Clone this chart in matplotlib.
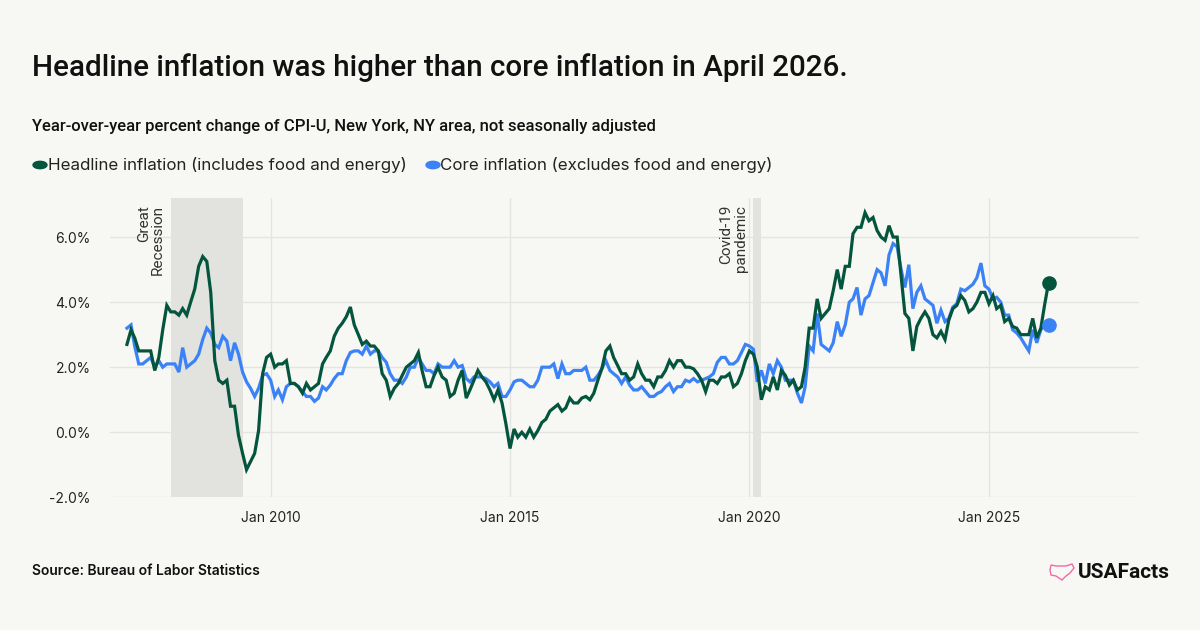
import matplotlib
matplotlib.use("Agg")
import matplotlib.pyplot as plt
from matplotlib.patches import Circle, Polygon
import pandas as pd

# year-over-year % change, CPI-U New York area, monthly from Jan 2007 to Apr 2026
headline = [
    2.7, 3.15, 2.9, 2.5, 2.5, 2.5, 2.5, 1.9, 2.3, 3.15,
    3.9, 3.7, 3.7, 3.6, 3.8, 3.6, 4.0, 4.4, 5.1, 5.4,
    5.25, 4.3, 2.2, 1.6, 1.5, 1.6, 0.8, 0.8, -0.1, -0.65,
    -1.15, -0.9, -0.65, 0.05, 1.8, 2.3, 2.4, 2.0, 2.1, 2.1,
    2.2, 1.5, 1.5, 1.4, 1.2, 1.5, 1.3, 1.4, 1.5, 2.1,
    2.3, 2.5, 2.95, 3.2, 3.35, 3.55, 3.85, 3.3, 3.0, 2.7,
    2.8, 2.65, 2.65, 2.5, 1.8, 1.6, 1.1, 1.35, 1.5, 1.75,
    2.0, 2.1, 2.2, 2.45, 1.9, 1.4, 1.4, 1.75, 2.0, 1.7,
    1.6, 1.1, 1.2, 1.6, 1.9, 1.05, 1.3, 1.6, 1.9, 1.7,
    1.55, 1.3, 1.0, 1.3, 0.9, 0.25, -0.5, 0.1, -0.15, 0.0,
    -0.15, 0.1, -0.15, 0.05, 0.3, 0.4, 0.65, 0.75, 0.85, 0.65,
    0.75, 1.05, 0.9, 0.9, 1.05, 1.1, 1.0, 1.2, 1.6, 1.95,
    2.5, 2.65, 2.3, 2.05, 1.8, 1.8, 1.6, 1.7, 2.1, 1.8,
    1.6, 1.6, 1.4, 1.7, 1.7, 1.9, 2.2, 2.0, 2.2, 2.2,
    2.0, 2.0, 1.95, 1.8, 1.6, 1.25, 1.6, 1.6, 1.5, 1.7,
    1.7, 1.8, 1.4, 1.5, 1.8, 2.2, 2.5, 2.4, 2.0, 1.0,
    1.4, 1.3, 1.7, 1.3, 1.9, 1.75, 1.45, 1.6, 1.3, 1.4,
    2.0, 3.2, 3.2, 4.1, 3.5, 3.65, 3.8, 4.35, 5.0, 4.4,
    5.1, 5.1, 6.1, 6.3, 6.3, 6.75, 6.5, 6.6, 6.2, 6.0,
    5.9, 6.35, 6.0, 6.0, 4.9, 3.65, 3.5, 2.5, 3.25, 3.5,
    3.7, 3.5, 3.0, 2.9, 3.1, 2.85, 3.45, 3.8, 3.9, 4.2,
    4.05, 3.7, 3.8, 4.0, 4.3, 4.3, 3.95, 4.2, 3.8, 3.9,
    3.4, 3.5, 3.25, 3.2, 3.0, 3.0, 3.0, 3.5, 2.9, 3.2,
    3.9, 4.6,
]
core = [
    3.2, 3.3, 2.65, 2.1, 2.1, 2.2, 2.3, 2.0, 2.2, 2.0,
    2.1, 2.1, 2.1, 1.85, 2.6, 2.0, 2.1, 2.2, 2.4, 2.85,
    3.2, 3.05, 2.7, 2.6, 2.95, 2.8, 2.2, 2.75, 2.4, 1.85,
    1.55, 1.35, 1.1, 1.35, 1.75, 1.8, 1.6, 1.1, 1.3, 1.0,
    1.4, 1.5, 1.5, 1.4, 1.25, 1.1, 1.1, 0.95, 1.05, 1.4,
    1.3, 1.45, 1.65, 1.8, 1.8, 2.2, 2.45, 2.5, 2.5, 2.4,
    2.65, 2.4, 2.5, 2.5, 2.3, 2.15, 1.8, 1.6, 1.6, 1.5,
    1.7, 2.0, 2.0, 2.3, 2.1, 1.9, 1.9, 1.8, 2.1, 2.0,
    2.0, 2.0, 2.2, 2.0, 2.05, 1.65, 1.55, 1.7, 1.7, 1.7,
    1.65, 1.55, 1.4, 1.5, 1.1, 1.1, 1.3, 1.55, 1.6, 1.6,
    1.5, 1.4, 1.4, 1.6, 2.0, 2.0, 2.0, 2.1, 1.65, 2.1,
    1.8, 1.8, 1.9, 1.9, 1.9, 2.0, 1.6, 1.6, 1.75, 1.95,
    2.2, 1.9, 1.8, 1.7, 1.5, 1.7, 1.45, 1.3, 1.3, 1.4,
    1.25, 1.1, 1.1, 1.2, 1.25, 1.4, 1.5, 1.25, 1.4, 1.4,
    1.6, 1.55, 1.65, 1.55, 1.6, 1.65, 1.7, 1.8, 2.15, 2.3,
    2.3, 2.1, 2.1, 2.2, 2.45, 2.7, 2.65, 2.55, 1.55, 1.9,
    1.5, 2.1, 1.8, 2.2, 2.0, 1.6, 1.6, 1.6, 1.2, 0.9,
    1.4, 2.65, 2.5, 3.65, 2.7, 2.6, 2.5, 2.75, 3.4, 2.95,
    3.3, 4.0, 4.1, 4.45, 3.6, 4.1, 4.2, 4.6, 5.0, 4.9,
    4.5, 5.45, 5.8, 5.7, 5.05, 4.45, 5.15, 3.8, 4.3, 4.5,
    4.1, 4.0, 3.9, 3.35, 3.75, 3.4, 3.5, 3.85, 3.95, 4.4,
    4.35, 4.45, 4.55, 4.75, 5.2, 4.5, 4.4, 4.1, 4.15, 4.0,
    3.6, 3.6, 3.15, 3.05, 2.9, 2.7, 2.5, 3.15, 2.75, 3.15,
    3.3, 3.3,
]
months = pd.date_range("2007-01-01", periods=len(headline), freq="MS")

yticks = [-2, 0, 2, 4, 6]
ytick_labels = ["-2.0%", "0.0%", "2.0%", "4.0%", "6.0%"]
xticks = pd.to_datetime(["2010-01-01", "2015-01-01", "2020-01-01", "2025-01-01"])
xtick_labels = ["Jan 2010", "Jan 2015", "Jan 2020", "Jan 2025"]

# shaded periods
shade_start = pd.to_datetime(["2007-12-01", "2020-02-01"])
shade_end = pd.to_datetime(["2009-06-01", "2020-04-01"])
shade_labels = ["Great\nRecession", "Covid-19\npandemic"]

bg = "#f7f7f3"
green = "#04553d"
blue = "#3b82f6"
grid = "#e4e4e4"
txt = "#111111"

fig = plt.figure(figsize=(12, 6.3), dpi=100, facecolor=bg)
ax = fig.add_axes([0.0917, 0.2106, 0.8575, 0.4751])
ax.set_facecolor(bg)

for s, e, lab in zip(shade_start, shade_end, shade_labels):
    ax.axvspan(s, e, color="#e2e2df", lw=0, zorder=1)
    ax.annotate(lab, xy=(s, 1), xycoords=("data", "axes fraction"),
                xytext=(-4, -5), textcoords="offset points",
                rotation=90, ha="right", va="top", multialignment="right",
                fontsize=11, color="#333333", family="Roboto", linespacing=1.05)

ax.plot(months, headline, color=green, lw=2.3, zorder=4, solid_joinstyle="miter")
ax.plot(months, core, color=blue, lw=2.3, zorder=3, solid_joinstyle="miter")
ax.plot(months[-1], headline[-1], "o", color=green, ms=9.5, zorder=5)
ax.plot(months[-1], core[-1], "o", color=blue, ms=9.5, zorder=5)

ax.set_xlim(pd.Timestamp("2006-08-25"), pd.Timestamp("2028-02-20"))
ax.set_ylim(-2, 7.2)
ax.set_yticks(yticks)
ax.set_yticklabels(ytick_labels)
ax.set_xticks(xticks)
ax.set_xticklabels(xtick_labels)
ax.grid(True, color=grid, lw=1, zorder=0)
ax.set_axisbelow(True)
for sp in ax.spines.values():
    sp.set_visible(False)
ax.tick_params(length=0, labelsize=10, labelcolor="#222222", pad=14)
ax.tick_params(axis="x", pad=10)
for lab in ax.get_xticklabels() + ax.get_yticklabels():
    lab.set_family("Inter")

# header
fig.text(32 / 1200, 1 - 68 / 630, "Headline inflation was higher than core inflation in April 2026.",
         fontsize=21.3, family="Roboto", weight="medium", color=txt, va="center")
fig.text(32 / 1200, 1 - 127 / 630, "Year-over-year percent change of CPI-U, New York, NY area, not seasonally adjusted",
         fontsize=12, family="Roboto", weight="medium", color=txt, va="center")

# legend
fig.patches.append(Circle((40 / 1200, 1 - 165 / 630), 7 / 1200, transform=fig.transFigure,
                          color=green, figure=fig))
fig.text(48 / 1200, 1 - 165 / 630, "Headline inflation (includes food and energy)",
         fontsize=12.2, family="Inter", color="#222222", va="center")
fig.patches.append(Circle((433 / 1200, 1 - 165 / 630), 7 / 1200, transform=fig.transFigure,
                          color=blue, figure=fig))
fig.text(440 / 1200, 1 - 165 / 630, "Core inflation (excludes food and energy)",
         fontsize=12.2, family="Inter", color="#222222", va="center")

# footer
fig.text(32 / 1200, 1 - 571 / 630, "Source: Bureau of Labor Statistics",
         fontsize=10, family="Inter", weight="semibold", color=txt, va="center")
map_x = [1051, 1056, 1066, 1072, 1074, 1070, 1066, 1062, 1056, 1051, 1050]
map_y = [565, 566, 566, 564, 568, 573, 576, 580, 576, 575, 570]
fig.patches.append(Polygon([(x / 1200, 1 - y / 630) for x, y in zip(map_x, map_y)], closed=True,
                           fill=False, edgecolor="#f06aa8", lw=1, transform=fig.transFigure, figure=fig))
fig.text(1078 / 1200, 1 - 572 / 630, "USAFacts", fontsize=15, family="Roboto", weight="bold",
         color=txt, va="center")

fig.savefig("out.png", dpi=100, facecolor=bg)
